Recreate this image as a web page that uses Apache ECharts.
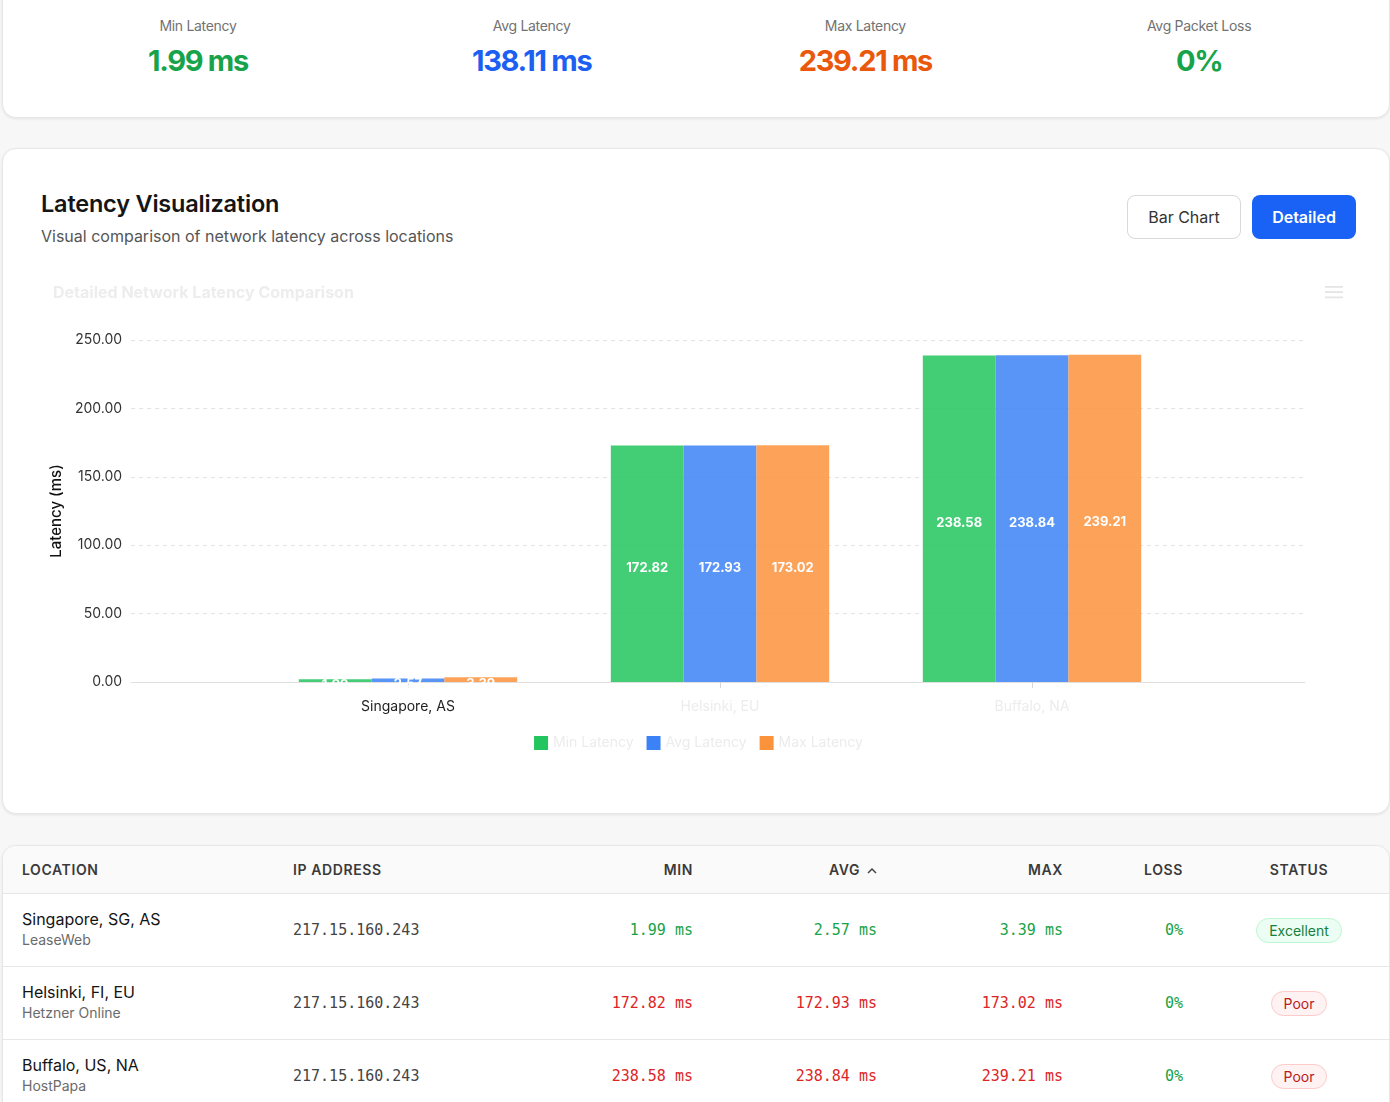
<!DOCTYPE html>
<html>
<head>
<meta charset="utf-8">
<script src="https://cdn.jsdelivr.net/npm/echarts@6/dist/echarts.min.js"></script>
<style>
  html,body{margin:0;padding:0;}
  body{width:1390px;height:1102px;overflow:hidden;background:#f7f7f8;font-family:Inter,"Noto Sans",sans-serif;position:relative;}
  .card{position:absolute;left:2px;width:1388px;box-sizing:border-box;background:#fff;border:1px solid #e7e7e7;border-radius:14px;box-shadow:0 1px 3px rgba(0,0,0,0.08);overflow:hidden;}
  #stats{top:-14px;height:132px;}
  .stat{position:absolute;width:334px;text-align:center;}
  .stat .lbl{position:absolute;top:30px;left:0;right:0;font-size:14px;color:#727272;font-weight:400;letter-spacing:-0.3px;}
  .stat .val{position:absolute;top:54px;left:0;right:0;font-size:29px;font-weight:700;letter-spacing:-1.3px;line-height:40px;}
  #chartcard{top:148px;height:666px;}
  #ctitle{position:absolute;left:38px;top:40px;font-size:23.5px;font-weight:600;color:#151515;letter-spacing:-0.2px;}
  #csub{position:absolute;left:38px;top:77px;font-size:16px;color:#555;font-weight:400;}
  .btn{position:absolute;top:46px;height:44px;box-sizing:border-box;border-radius:8px;font-size:16px;line-height:44px;text-align:center;}
  #b1{left:1124px;width:114px;border:1px solid #d9d9d9;color:#333;background:#fff;line-height:42px;}
  #b2{left:1249px;width:104px;background:#1a62f6;color:#fff;font-weight:600;}
  #chart{position:absolute;left:38px;top:123px;width:1315px;height:510px;}
  #tablecard{top:845px;height:300px;}
  table{border-collapse:collapse;table-layout:fixed;width:1391px;}
  th{height:47px;background:#fafafa;font-size:14px;font-weight:600;color:#3a3a3a;letter-spacing:0.6px;padding:0 20px;border-bottom:1px solid #e5e7eb;}
  td{height:72px;padding:0 20px;border-bottom:1px solid #e5e7eb;}
  th.l,td.l{padding-left:19px;}
  th.r,td.r{padding-right:21px;}
  .l{text-align:left}.r{text-align:right}.c{text-align:center}
  .loc{font-size:16px;color:#141414;line-height:22px;margin-top:-2px;}
  .prov{font-size:14px;color:#6b6b6b;line-height:20px;}
  .mono{font-family:"DejaVu Sans Mono",monospace;font-size:15px;}
  .ip{color:#444;}
  .g{color:#16a34a}.rd{color:#dc2626}
  .badge{display:inline-block;font-size:14px;border-radius:13px;padding:0 12px;line-height:23px;border:1px solid;}
  .ex{background:#ecfdf3;border-color:#bbf7d0;color:#15803d;}
  .po{background:#fef2f2;border-color:#fecaca;color:#b91c1c;}
</style>
</head>
<body>
<div class="card" id="stats"></div>
<div class="card" id="chartcard">
  <div id="ctitle">Latency Visualization</div>
  <div id="csub">Visual comparison of network latency across locations</div>
  <div class="btn" id="b1">Bar Chart</div>
  <div class="btn" id="b2">Detailed</div>
  <div id="chart"></div>
</div>
<div class="card" id="tablecard"><table id="tbl"></table></div>
<script>
// ---- data ----
const categories = ['Singapore, AS', 'Helsinki, EU', 'Buffalo, NA'];
const seriesNames = ['Min Latency', 'Avg Latency', 'Max Latency'];
const minLatency = [1.99, 172.82, 238.58];
const avgLatency = [2.57, 172.93, 238.84];
const maxLatency = [3.39, 173.02, 239.21];
const yMin = 0, yMax = 250, yInterval = 50;

const statLabels = ['Min Latency', 'Avg Latency', 'Max Latency', 'Avg Packet Loss'];
const statValues = ['1.99 ms', '138.11 ms', '239.21 ms', '0%'];
const statColors = ['#16a34a', '#1d5ff2', '#ea580c', '#16a34a'];

const rowLocations = ['Singapore, SG, AS', 'Helsinki, FI, EU', 'Buffalo, US, NA'];
const rowProviders = ['LeaseWeb', 'Hetzner Online', 'HostPapa'];
const rowIPs = ['217.15.160.243', '217.15.160.243', '217.15.160.243'];
const rowLoss = ['0%', '0%', '0%'];
const rowStatus = ['Excellent', 'Poor', 'Poor'];

// ---- stats ----
const stats = document.getElementById('stats');
statLabels.forEach((l, i) => {
  const d = document.createElement('div');
  d.className = 'stat';
  d.style.left = (28 + i * 333.7) + 'px';
  d.style.top = '0px';
  d.style.height = '120px';
  d.innerHTML = '<div class="lbl">' + l + '</div><div class="val" style="color:' + statColors[i] + '">' + statValues[i] + '</div>';
  stats.appendChild(d);
});

// ---- table ----
const caret = '<svg width="10" height="7" viewBox="0 0 10 7" style="margin-left:7px;vertical-align:1px"><path d="M1 6L5 2L9 6" fill="none" stroke="#444" stroke-width="1.5"/></svg>';
let html = '<colgroup><col style="width:271px"><col style="width:205px"><col style="width:235px"><col style="width:184px"><col style="width:186px"><col style="width:120px"><col style="width:190px"></colgroup>';
html += '<tr><th class="l">LOCATION</th><th class="l">IP ADDRESS</th><th class="r">MIN</th><th class="r">AVG' + caret + '</th><th class="r">MAX</th><th class="r">LOSS</th><th class="c">STATUS</th></tr>';
const fmt = v => v.toFixed(2) + ' ms';
for (let i = 0; i < rowLocations.length; i++) {
  const cls = rowStatus[i] === 'Excellent' ? 'g' : 'rd';
  html += '<tr><td class="l"><div class="loc">' + rowLocations[i] + '</div><div class="prov">' + rowProviders[i] + '</div></td>' +
    '<td class="l mono ip">' + rowIPs[i] + '</td>' +
    '<td class="r mono ' + cls + '">' + fmt(minLatency[i]) + '</td>' +
    '<td class="r mono ' + cls + '">' + fmt(avgLatency[i]) + '</td>' +
    '<td class="r mono ' + cls + '">' + fmt(maxLatency[i]) + '</td>' +
    '<td class="r mono g">' + rowLoss[i] + '</td>' +
    '<td class="c"><span class="badge ' + (rowStatus[i] === 'Excellent' ? 'ex' : 'po') + '">' + rowStatus[i] + '</span></td></tr>';
}
document.getElementById('tbl').innerHTML = html;

// ---- chart ----
const solidColors = ['#22c55e', '#3b82f6', '#fb923c'];
const barColors = ['rgba(34,197,94,0.85)', 'rgba(59,130,246,0.85)', 'rgba(251,146,60,0.85)'];
const seriesData = [minLatency, avgLatency, maxLatency];
const chart = echarts.init(document.getElementById('chart'));
const yCommon = {type: 'value', min: yMin, max: yMax, interval: yInterval};
chart.setOption({
  animation: false,
  textStyle: {fontFamily: 'Inter'},
  title: {text: 'Detailed Network Latency Comparison', left: 7, top: 8,
    textStyle: {fontSize: 16, fontWeight: 'bold', color: '#ededed', fontFamily: 'Inter'}},
  toolbox: {right: -2, top: -1, itemSize: 18,
    iconStyle: {color: '#e4e4e4', borderWidth: 0},
    feature: {myMenu: {show: true, title: '', icon: 'path://M0,0H24V2.4H0Z M0,7H24V9.4H0Z M0,14H24V16.4H0Z', onclick: function(){}}}},
  legend: {data: seriesNames.map((n, i) => ({name: n, itemStyle: {color: solidColors[i], opacity: 1}})),
    left: 'center', top: 459, itemWidth: 14, itemHeight: 14, itemGap: 13, icon: 'rect',
    textStyle: {color: '#ececec', fontSize: 14}},
  grid: [
    {left: 88, right: 51, top: 68, bottom: 100},
    {left: 211, right: 168, top: 68, bottom: 100}
  ],
  xAxis: [
    {gridIndex: 0, type: 'value', min: 0, max: 1, axisLine: {show: true, lineStyle: {color: '#e0e0e0'}},
      axisTick: {show: false}, axisLabel: {show: false}, splitLine: {show: false}},
    {gridIndex: 1, type: 'category', data: categories, axisLine: {show: false},
      axisTick: {show: true, alignWithLabel: true, length: 6, lineStyle: {color: '#d6d6d6'}},
      axisLabel: {margin: 18, fontSize: 14, color: (v, i) => i === 0 ? '#222' : '#ececec'}}
  ],
  yAxis: [
    Object.assign({gridIndex: 0, name: 'Latency (ms)', nameLocation: 'middle', nameGap: 67,
      nameTextStyle: {fontSize: 15, fontWeight: 500, color: '#111'},
      axisLine: {show: false}, axisTick: {show: false},
      axisLabel: {margin: 9, fontSize: 14, color: '#333', formatter: v => v.toFixed(2)},
      splitLine: {show: true, lineStyle: {type: [4, 4], color: '#e3e3e3'}}}, yCommon),
    Object.assign({gridIndex: 1, show: false, splitLine: {show: false}}, yCommon)
  ],
  series: seriesNames.map((n, i) => ({
    name: n, type: 'bar', xAxisIndex: 1, yAxisIndex: 1, data: seriesData[i],
    barGap: '0%', barCategoryGap: '30%',
    itemStyle: {color: barColors[i]},
    label: {show: true, position: 'inside', offset: [0, 4], color: '#fff', fontSize: 13, fontWeight: 700,
      textBorderWidth: 0, formatter: p => p.value.toFixed(2)}
  }))
});
</script>
</body>
</html>
